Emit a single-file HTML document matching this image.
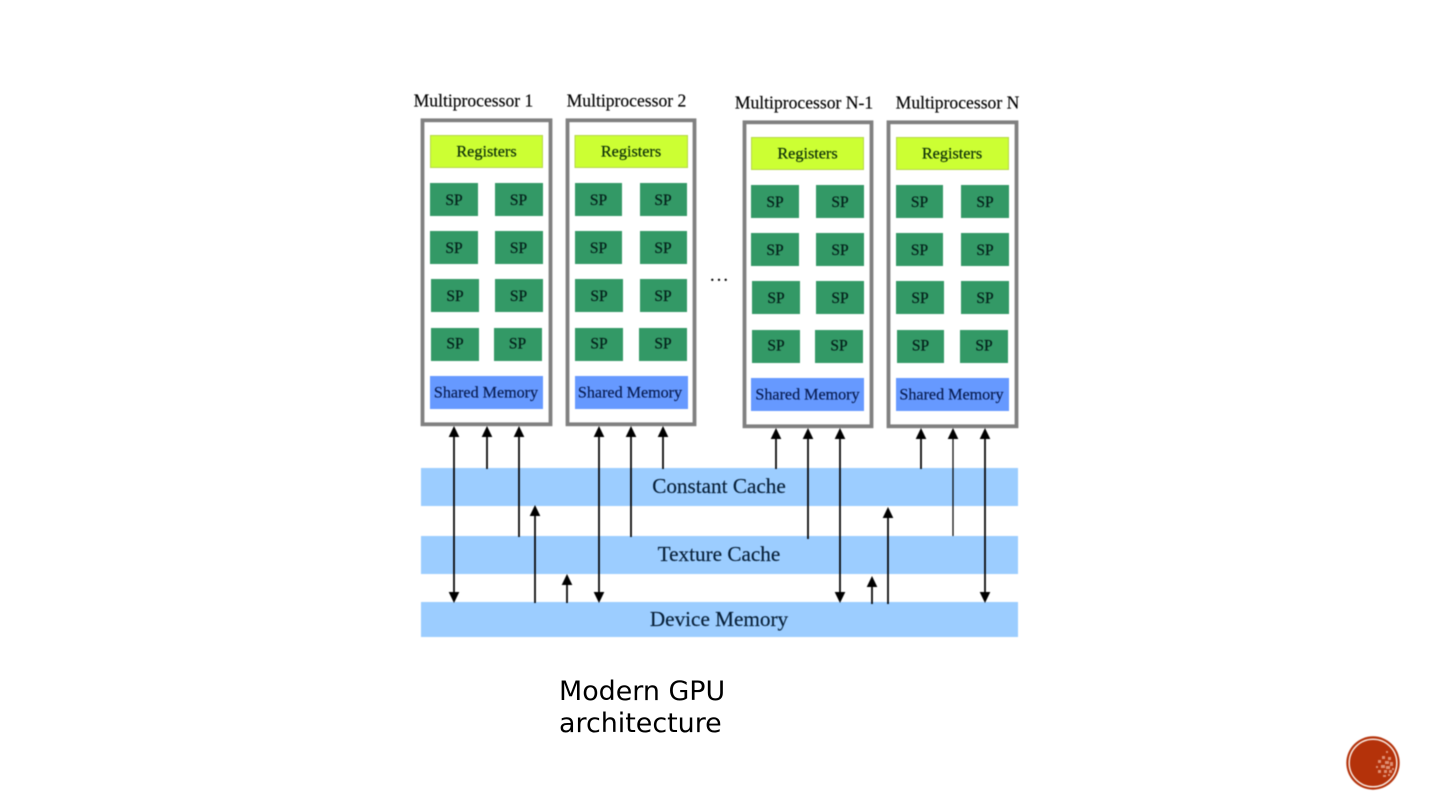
<!DOCTYPE html>
<html>
<head>
<meta charset="utf-8">
<style>
html,body{margin:0;padding:0;background:#fff;width:1440px;height:810px;overflow:hidden}
svg{position:absolute;left:0;top:0}
.d text{font-family:"Liberation Serif",serif;text-anchor:middle}
.m{font-size:17.6px;fill:#000;stroke:#000;stroke-width:.15}
.r{font-size:16.2px;fill:#0a2c08;stroke:#0a2c08;stroke-width:.2}
.s{font-size:15.5px;fill:#03201a;stroke:#03201a;stroke-width:.25}
.h{font-size:16.1px;fill:#081c50;stroke:#081c50;stroke-width:.2}
.b{font-size:21.2px;fill:#061e36;stroke:#061e36;stroke-width:.15}
.box{fill:#fff;stroke:#808080;stroke-width:3.8}
.reg{fill:#ccff33;stroke:#b5d84a;stroke-width:1}
.sp{fill:#339966}
.sm{fill:#6699ff}
.band{fill:#9ccdff}
.ln{stroke:#000;stroke-width:1.7;fill:none}
.hd{fill:#000}
</style>
</head>
<body>
<svg width="1440" height="810" viewBox="0 0 1440 810">
<g class="d" style="filter:blur(0.45px)">
<!-- bands -->
<rect class="band" x="421" y="468" width="597" height="38"/>
<rect class="band" x="421" y="536" width="597" height="38"/>
<rect class="band" x="421" y="602" width="597" height="35"/>
<text class="b" x="719" y="493">Constant Cache</text>
<text class="b" x="719" y="561">Texture Cache</text>
<text class="b" x="719" y="626">Device Memory</text>

<!-- boxes -->
<rect class="box" x="422.5" y="120.3" width="128" height="304"/>
<rect class="box" x="567.5" y="120.3" width="127" height="304"/>
<rect class="box" x="744.5" y="122.3" width="127" height="304"/>
<rect class="box" x="888.5" y="122.3" width="128" height="304"/>

<!-- titles -->
<text class="m" x="473.500" y="106.500">Multiprocessor 1</text>
<text class="m" x="626.500" y="106.500">Multiprocessor 2</text>
<text class="m" x="804" y="108.500">Multiprocessor N-1</text>
<text class="m" x="957.500" y="108.500">Multiprocessor N</text>

<!-- registers -->
<rect class="reg" x="430.500" y="135.500" width="112" height="32"/>
<rect class="reg" x="575" y="135.500" width="112.500" height="32"/>
<rect class="reg" x="751.500" y="137.500" width="112" height="32"/>
<rect class="reg" x="896.500" y="137.500" width="112" height="32"/>
<text class="r" x="486.500" y="156.500">Registers</text>
<text class="r" x="631" y="156.500">Registers</text>
<text class="r" x="807.500" y="158.500">Registers</text>
<text class="r" x="952" y="158.500">Registers</text>

<!-- SP box 1 -->
<rect class="sp" x="430" y="183" width="48" height="33"/><rect class="sp" x="495" y="183" width="48" height="33"/>
<rect class="sp" x="430" y="231" width="48" height="33"/><rect class="sp" x="495" y="231" width="48" height="33"/>
<rect class="sp" x="431" y="279" width="48" height="33"/><rect class="sp" x="495" y="279" width="48" height="33"/>
<rect class="sp" x="431" y="328" width="48" height="33"/><rect class="sp" x="494" y="328" width="48" height="33"/>
<text class="s" x="454" y="205">SP</text><text class="s" x="518.500" y="205">SP</text>
<text class="s" x="454" y="253">SP</text><text class="s" x="518.500" y="253">SP</text>
<text class="s" x="455" y="301">SP</text><text class="s" x="518.500" y="301">SP</text>
<text class="s" x="455" y="348.500">SP</text><text class="s" x="517.500" y="348.500">SP</text>

<!-- SP box 2 -->
<rect class="sp" x="575" y="183" width="47" height="33"/><rect class="sp" x="640" y="183" width="47" height="33"/>
<rect class="sp" x="575" y="231" width="47" height="33"/><rect class="sp" x="640" y="231" width="47" height="33"/>
<rect class="sp" x="575" y="279" width="48" height="33"/><rect class="sp" x="640" y="279" width="47" height="33"/>
<rect class="sp" x="575" y="328" width="48" height="33"/><rect class="sp" x="639" y="328" width="48" height="33"/>
<text class="s" x="598.500" y="205">SP</text><text class="s" x="663" y="205">SP</text>
<text class="s" x="598.500" y="253">SP</text><text class="s" x="663" y="253">SP</text>
<text class="s" x="599" y="301">SP</text><text class="s" x="663" y="301">SP</text>
<text class="s" x="599" y="348.500">SP</text><text class="s" x="663" y="348.500">SP</text>

<!-- SP box 3 -->
<rect class="sp" x="751" y="185" width="48" height="33"/><rect class="sp" x="816" y="185" width="48" height="33"/>
<rect class="sp" x="751" y="233" width="48" height="33"/><rect class="sp" x="816" y="233" width="48" height="33"/>
<rect class="sp" x="752" y="281" width="48" height="33"/><rect class="sp" x="816" y="281" width="48" height="33"/>
<rect class="sp" x="752" y="330" width="48" height="33"/><rect class="sp" x="815" y="330" width="48" height="33"/>
<text class="s" x="775" y="207">SP</text><text class="s" x="840" y="207">SP</text>
<text class="s" x="775" y="255">SP</text><text class="s" x="840" y="255">SP</text>
<text class="s" x="776" y="303">SP</text><text class="s" x="840" y="303">SP</text>
<text class="s" x="776" y="350.500">SP</text><text class="s" x="839" y="350.500">SP</text>

<!-- SP box 4 -->
<rect class="sp" x="896" y="185" width="47" height="33"/><rect class="sp" x="961" y="185" width="48" height="33"/>
<rect class="sp" x="896" y="233" width="47" height="33"/><rect class="sp" x="961" y="233" width="48" height="33"/>
<rect class="sp" x="896" y="281" width="48" height="33"/><rect class="sp" x="961" y="281" width="48" height="33"/>
<rect class="sp" x="897" y="330" width="47" height="33"/><rect class="sp" x="960" y="330" width="48" height="33"/>
<text class="s" x="919.500" y="207">SP</text><text class="s" x="985" y="207">SP</text>
<text class="s" x="919.500" y="255">SP</text><text class="s" x="985" y="255">SP</text>
<text class="s" x="920" y="303">SP</text><text class="s" x="985" y="303">SP</text>
<text class="s" x="920.500" y="350.500">SP</text><text class="s" x="984" y="350.500">SP</text>

<!-- shared memory -->
<rect class="sm" x="430" y="376" width="113" height="33"/>
<rect class="sm" x="575" y="376" width="113" height="33"/>
<rect class="sm" x="751" y="378" width="113" height="33"/>
<rect class="sm" x="896" y="378" width="113" height="33"/>
<text class="h" x="486" y="397.500">Shared Memory</text>
<text class="h" x="630" y="397.500">Shared Memory</text>
<text class="h" x="807.500" y="399.500">Shared Memory</text>
<text class="h" x="951.500" y="399.500">Shared Memory</text>

<text x="719" y="281" style="font-size:20px;fill:#000">…</text>

<!-- connector lines -->
<path class="ln" d="M454 430V600M487 430V469M519 430V537M535 510V603M567 578V603M599 430V600M631 430V537M663 430V469M776 432V469M808 432V539M840 432V600M872 580V604M888 512V604M921 432V469M985 432V600"/>
<path class="ln" style="stroke-width:1.2" d="M953 432V536"/>
<!-- arrowheads -->
<path class="hd" d="M454 426l-5.300 11h10.600zM487 426l-5.300 11h10.600zM519 426l-5.300 11h10.600zM535 505l-5.300 11h10.600zM567 574l-5.300 11h10.600zM599 426l-5.300 11h10.600zM631 426l-5.300 11h10.600zM663 426l-5.300 11h10.600zM776 428l-5.300 11h10.600zM808 428l-5.300 11h10.600zM840 428l-5.300 11h10.600zM872 576l-5.300 11h10.600zM888 507l-5.300 11h10.600zM921 428l-5.300 11h10.600zM953 428l-5.300 11h10.600zM985 428l-5.300 11h10.600z"/>
<path class="hd" d="M454 603l-5.300-11h10.600zM599 603l-5.300-11h10.600zM840 603l-5.300-11h10.600zM985 603l-5.300-11h10.600z"/>
</g>

<!-- caption -->
<text x="559" y="700" style="font-family:'DejaVu Sans',sans-serif;font-size:26.9px;fill:#000">Modern GPU</text>
<text x="559" y="732" style="font-family:'DejaVu Sans',sans-serif;font-size:26.9px;fill:#000">architecture</text>

<!-- badge -->
<g style="filter:blur(0.5px)">
<circle cx="1373" cy="763" r="26.700" fill="#b4320a"/>
<circle cx="1373" cy="763" r="23.800" fill="none" stroke="#f8e8e0" stroke-width="1.500"/>
<g fill="#e39a80" opacity=".9">
<rect x="1378" y="760" width="3" height="3"/><rect x="1382" y="756" width="3" height="3"/><rect x="1385" y="761" width="4" height="3"/>
<rect x="1388" y="757" width="3" height="3"/><rect x="1381" y="765" width="4" height="3"/><rect x="1386" y="766" width="4" height="3"/>
<rect x="1390" y="762" width="3" height="4"/><rect x="1384" y="770" width="3" height="3"/><rect x="1389" y="770" width="3" height="3"/>
<rect x="1378" y="770" width="3" height="3"/><rect x="1386" y="751" width="2" height="2"/><rect x="1392" y="768" width="2" height="2"/>
<rect x="1383" y="775" width="3" height="2"/><rect x="1388" y="774" width="2" height="2"/><rect x="1376" y="766" width="2" height="2"/>
</g>
</g>
</svg>
</body>
</html>
